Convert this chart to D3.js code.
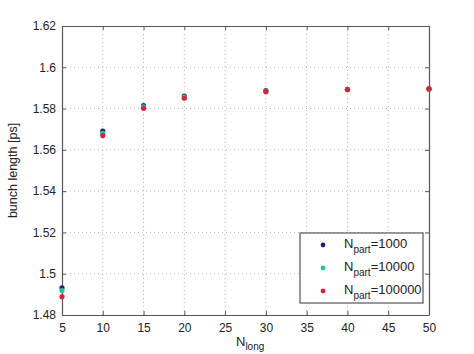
<!DOCTYPE html>
<html><head><meta charset="utf-8">
<script src="https://cdn.jsdelivr.net/npm/d3@7"></script>
<style>body{margin:0;background:#fff;} text{font-family:"Liberation Sans",Arial,sans-serif;}</style>
</head><body>
<svg id="c" width="474" height="354"></svg>
<script>
const nLong = [5, 10, 15, 20, 30, 40, 50];
const seriesNames = ["1000", "10000", "100000"];
const part1000   = [1.4932, 1.5691, 1.5814, 1.5861, 1.5887, 1.5893, 1.5896];
const part10000  = [1.4918, 1.5680, 1.5808, 1.5856, 1.5885, 1.5892, 1.5895];
const part100000 = [1.4889, 1.5669, 1.5801, 1.5850, 1.5882, 1.5892, 1.5895];
const seriesColors = ["#24246e", "#22c4a0", "#e0203a"];
const xTicks = [5,10,15,20,25,30,35,40,45,50];
const yTicks = [1.48,1.5,1.52,1.54,1.56,1.58,1.6,1.62];
const yTickLabels = ["1.48","1.5","1.52","1.54","1.56","1.58","1.6","1.62"];

const svg = d3.select("#c");
const L=62, R=429, T=26, B=315;
const x = d3.scaleLinear().domain([5,50]).range([L,R]);
const y = d3.scaleLinear().domain([1.48,1.62]).range([B,T]);

// grid
const g = svg.append("g");
g.selectAll(".gx").data(xTicks.slice(1,-1)).join("line")
  .attr("x1",d=>x(d)).attr("x2",d=>x(d)).attr("y1",T).attr("y2",B)
  .attr("stroke","#bbb").attr("stroke-width",1).attr("stroke-dasharray","1,3");
g.selectAll(".gy").data(yTicks.slice(1,-1)).join("line")
  .attr("y1",d=>y(d)).attr("y2",d=>y(d)).attr("x1",L).attr("x2",R)
  .attr("stroke","#bbb").attr("stroke-width",1).attr("stroke-dasharray","1,3");

// axes
const ax = svg.append("g").attr("transform",`translate(0,${B})`)
  .call(d3.axisBottom(x).tickValues(xTicks).tickSizeInner(-4).tickSizeOuter(0).tickPadding(8));
const ay = svg.append("g").attr("transform",`translate(${L},0)`)
  .call(d3.axisLeft(y).tickValues(yTicks).tickFormat((d,i)=>yTickLabels[i]).tickSizeInner(-4).tickSizeOuter(0).tickPadding(6));
const axT = svg.append("g").attr("transform",`translate(0,${T})`)
  .call(d3.axisTop(x).tickValues(xTicks).tickSizeInner(-4).tickSizeOuter(0).tickFormat(""));
const ayR = svg.append("g").attr("transform",`translate(${R},0)`)
  .call(d3.axisRight(y).tickValues(yTicks).tickSizeInner(-4).tickSizeOuter(0).tickFormat(""));
[ax,ay,axT,ayR].forEach(a=>{
  a.selectAll("path").attr("stroke","#555").attr("stroke-width",1.2);
  a.selectAll("line").attr("stroke","#555");
  a.selectAll("text").attr("fill","#222").attr("font-size",12);
});

// data
const all = [part1000, part10000, part100000];
all.forEach((s,i)=>{
  svg.append("g").selectAll("circle").data(s.map((v,j)=>[nLong[j],v])).join("circle")
    .attr("cx",d=>x(d[0])).attr("cy",d=>y(d[1])).attr("r",2.6).attr("fill",seriesColors[i]);
});

// labels
svg.append("text").attr("transform",`translate(17,${(T+B)/2}) rotate(-90)`)
  .attr("text-anchor","middle").attr("font-size",12.5).attr("fill","#222").text("bunch length [ps]");
const xl = svg.append("text").attr("x",236).attr("y",346).attr("font-size",13).attr("fill","#222");
xl.append("tspan").text("N");
xl.append("tspan").attr("dy",4).attr("font-size",10).text("long");

// legend
svg.append("rect").attr("x",300).attr("y",233).attr("width",123).attr("height",70)
  .attr("fill","#fff").attr("stroke","#555").attr("stroke-width",1.2);
seriesNames.forEach((n,i)=>{
  const yy = 245 + i*23;
  svg.append("circle").attr("cx",323).attr("cy",yy).attr("r",2.4).attr("fill",seriesColors[i]);
  const t = svg.append("text").attr("x",344).attr("y",yy+3).attr("font-size",13).attr("fill","#222");
  t.append("tspan").text("N");
  t.append("tspan").attr("dy",5).attr("font-size",10).text("part");
  t.append("tspan").attr("dy",-5).text("=" + n);
});
</script>
</body></html>
